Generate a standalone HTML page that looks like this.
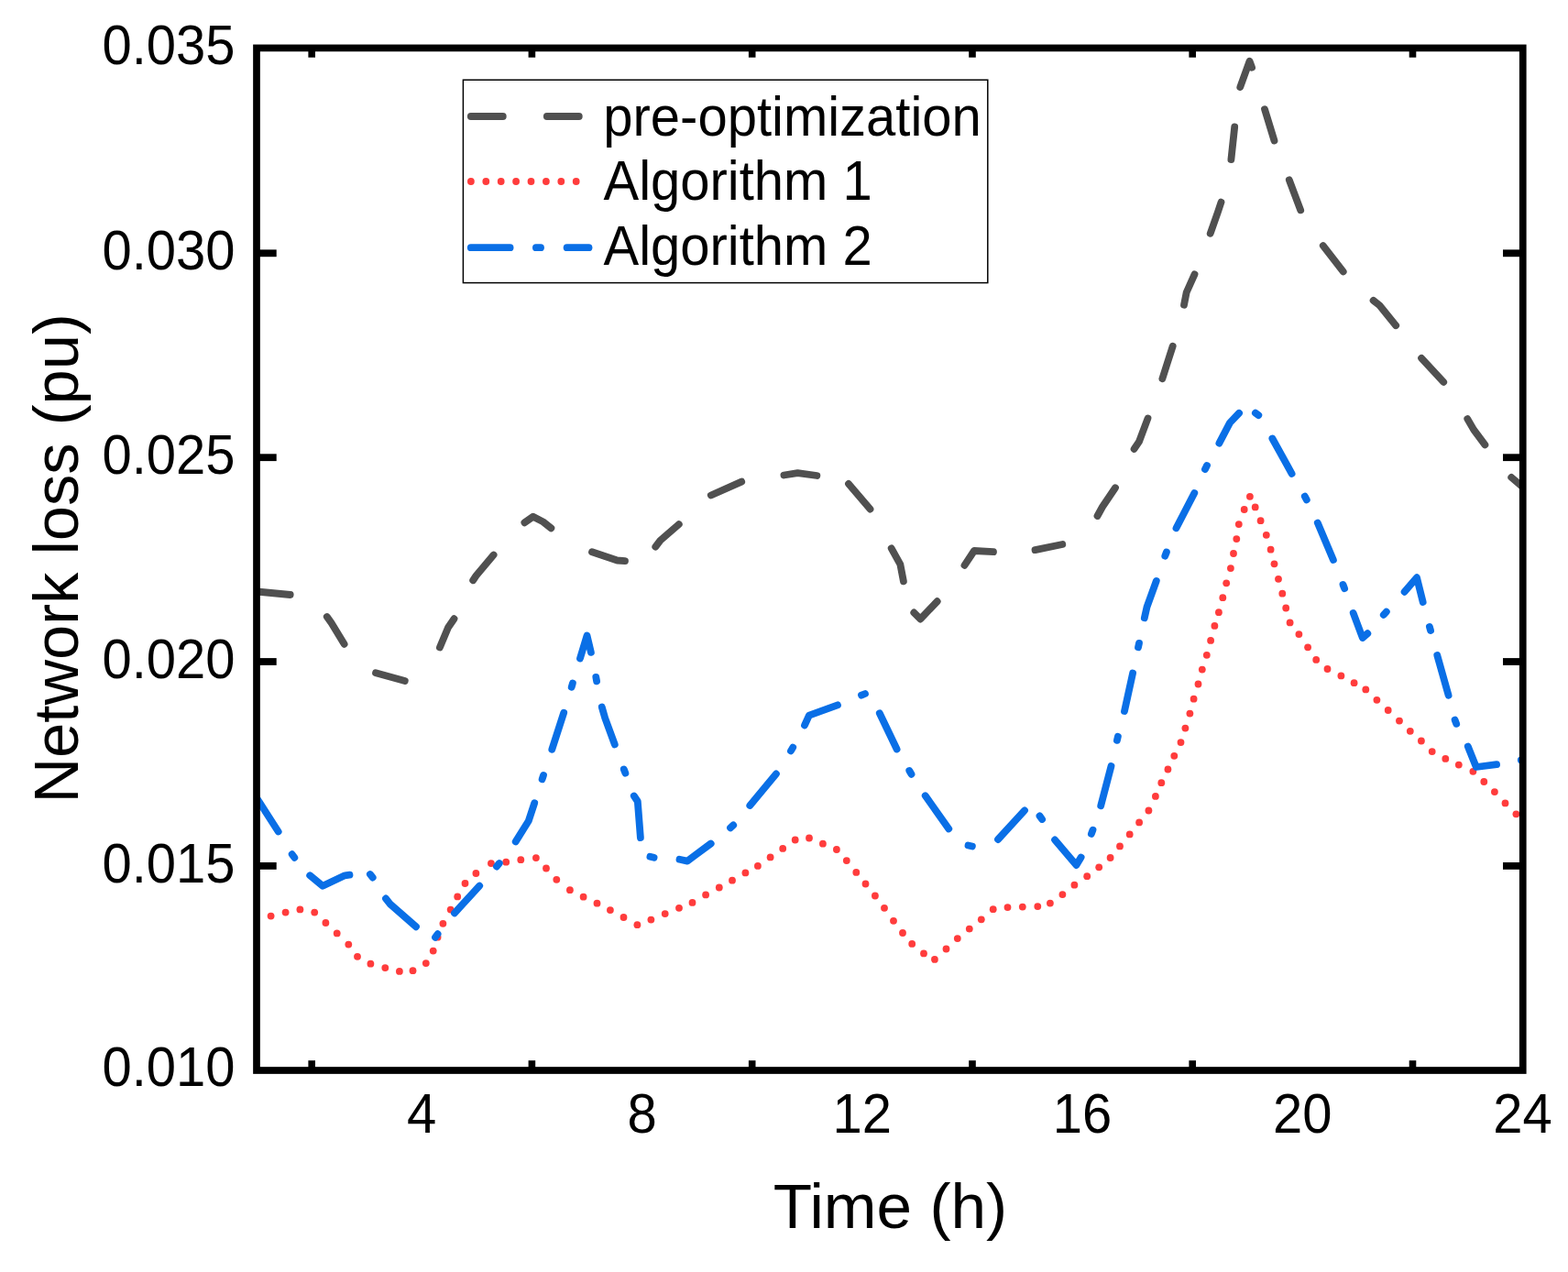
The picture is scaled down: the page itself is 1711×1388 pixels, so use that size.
<!DOCTYPE html>
<html><head><meta charset="utf-8"><title>Network loss chart</title>
<style>html,body{margin:0;padding:0;background:#fff;}svg{display:block;}</style>
</head><body>
<svg width="1711" height="1388" viewBox="0 0 1711 1388">
<rect width="1711" height="1388" fill="#fff"/>
<defs><clipPath id="pa"><rect x="280" y="52.4" width="1381.75" height="1115.6"/></clipPath></defs>
<g clip-path="url(#pa)" fill="none" stroke-linecap="round" stroke-linejoin="round">
<g fill="#ff3c3c" stroke="none">
<circle cx="295.6" cy="999.6" r="3.9"/>
<circle cx="311.6" cy="995.6" r="3.9"/>
<circle cx="327.4" cy="992.4" r="3.9"/>
<circle cx="343.2" cy="995.6" r="3.9"/>
<circle cx="355.4" cy="1007" r="3.9"/>
<circle cx="367.7" cy="1018.4" r="3.9"/>
<circle cx="380.3" cy="1030.6" r="3.9"/>
<circle cx="390" cy="1043.8" r="3.9"/>
<circle cx="404.4" cy="1051.7" r="3.9"/>
<circle cx="420.3" cy="1056.1" r="3.9"/>
<circle cx="435.9" cy="1059.9" r="3.9"/>
<circle cx="450.5" cy="1059.2" r="3.9"/>
<circle cx="464.8" cy="1051.1" r="3.9"/>
<circle cx="472.7" cy="1037.6" r="3.9"/>
<circle cx="477.6" cy="1022.7" r="3.9"/>
<circle cx="483.4" cy="1007.8" r="3.9"/>
<circle cx="491.7" cy="992.6" r="3.9"/>
<circle cx="499.2" cy="978.4" r="3.9"/>
<circle cx="507.5" cy="964" r="3.9"/>
<circle cx="519.4" cy="953" r="3.9"/>
<circle cx="535.9" cy="942.1" r="3.9"/>
<circle cx="552.2" cy="940.7" r="3.9"/>
<circle cx="568.3" cy="938.2" r="3.9"/>
<circle cx="584.9" cy="936.1" r="3.9"/>
<circle cx="596" cy="947.5" r="3.9"/>
<circle cx="607.3" cy="959.8" r="3.9"/>
<circle cx="621.9" cy="971.2" r="3.9"/>
<circle cx="636.6" cy="978.7" r="3.9"/>
<circle cx="651.5" cy="985.7" r="3.9"/>
<circle cx="665.9" cy="993.1" r="3.9"/>
<circle cx="680.5" cy="1001" r="3.9"/>
<circle cx="695.4" cy="1009.2" r="3.9"/>
<circle cx="710.4" cy="1003.6" r="3.9"/>
<circle cx="725.7" cy="997.1" r="3.9"/>
<circle cx="741" cy="990.8" r="3.9"/>
<circle cx="755.5" cy="984.9" r="3.9"/>
<circle cx="770.1" cy="976.4" r="3.9"/>
<circle cx="784.8" cy="968.5" r="3.9"/>
<circle cx="799" cy="960.7" r="3.9"/>
<circle cx="813.4" cy="952.4" r="3.9"/>
<circle cx="826.9" cy="944.9" r="3.9"/>
<circle cx="840.6" cy="935.4" r="3.9"/>
<circle cx="854.2" cy="925.9" r="3.9"/>
<circle cx="867.7" cy="916.5" r="3.9"/>
<circle cx="883" cy="914.5" r="3.9"/>
<circle cx="897.9" cy="920.7" r="3.9"/>
<circle cx="912.9" cy="927" r="3.9"/>
<circle cx="923.8" cy="939.1" r="3.9"/>
<circle cx="934.3" cy="951.9" r="3.9"/>
<circle cx="944.5" cy="964.5" r="3.9"/>
<circle cx="954.9" cy="977.5" r="3.9"/>
<circle cx="965" cy="990.8" r="3.9"/>
<circle cx="975" cy="1004.8" r="3.9"/>
<circle cx="985" cy="1018" r="3.9"/>
<circle cx="995.2" cy="1029.9" r="3.9"/>
<circle cx="1008" cy="1040.4" r="3.9"/>
<circle cx="1019.9" cy="1046.9" r="3.9"/>
<circle cx="1032.5" cy="1035.5" r="3.9"/>
<circle cx="1044.8" cy="1024.1" r="3.9"/>
<circle cx="1057.8" cy="1013.6" r="3.9"/>
<circle cx="1070.8" cy="1003.3" r="3.9"/>
<circle cx="1083.7" cy="992.2" r="3.9"/>
<circle cx="1099.5" cy="990.1" r="3.9"/>
<circle cx="1115.8" cy="989.6" r="3.9"/>
<circle cx="1132.3" cy="989.1" r="3.9"/>
<circle cx="1145.9" cy="985.6" r="3.9"/>
<circle cx="1159.4" cy="976.1" r="3.9"/>
<circle cx="1172.4" cy="965.7" r="3.9"/>
<circle cx="1186.2" cy="956.2" r="3.9"/>
<circle cx="1199.2" cy="946.3" r="3.9"/>
<circle cx="1211.6" cy="936" r="3.9"/>
<circle cx="1222" cy="923.4" r="3.9"/>
<circle cx="1232.7" cy="910.4" r="3.9"/>
<circle cx="1243.1" cy="897.4" r="3.9"/>
<circle cx="1253.4" cy="884.5" r="3.9"/>
<circle cx="1260.9" cy="868.9" r="3.9"/>
<circle cx="1267.3" cy="854.2" r="3.9"/>
<circle cx="1274.4" cy="839.5" r="3.9"/>
<circle cx="1281.3" cy="824.8" r="3.9"/>
<circle cx="1288.5" cy="810.1" r="3.9"/>
<circle cx="1293.4" cy="794.6" r="3.9"/>
<circle cx="1298.4" cy="778.6" r="3.9"/>
<circle cx="1302.6" cy="762.7" r="3.9"/>
<circle cx="1307.5" cy="746.5" r="3.9"/>
<circle cx="1311.8" cy="730.6" r="3.9"/>
<circle cx="1316.8" cy="714.8" r="3.9"/>
<circle cx="1321.1" cy="698.9" r="3.9"/>
<circle cx="1325.4" cy="682.9" r="3.9"/>
<circle cx="1329.9" cy="668.2" r="3.9"/>
<circle cx="1334.3" cy="652.2" r="3.9"/>
<circle cx="1338.2" cy="636.3" r="3.9"/>
<circle cx="1342.9" cy="620.1" r="3.9"/>
<circle cx="1346" cy="604" r="3.9"/>
<circle cx="1349.3" cy="588.1" r="3.9"/>
<circle cx="1351.8" cy="572.1" r="3.9"/>
<circle cx="1357.7" cy="556" r="3.9"/>
<circle cx="1363.9" cy="541.8" r="3.9"/>
<circle cx="1369.7" cy="553.4" r="3.9"/>
<circle cx="1375.6" cy="568.2" r="3.9"/>
<circle cx="1381.8" cy="583.8" r="3.9"/>
<circle cx="1386.6" cy="599.7" r="3.9"/>
<circle cx="1390.5" cy="615.3" r="3.9"/>
<circle cx="1395" cy="631.8" r="3.9"/>
<circle cx="1399.3" cy="647.7" r="3.9"/>
<circle cx="1403.2" cy="663.5" r="3.9"/>
<circle cx="1407.6" cy="679.4" r="3.9"/>
<circle cx="1417.4" cy="692.1" r="3.9"/>
<circle cx="1427.1" cy="706.3" r="3.9"/>
<circle cx="1436.2" cy="719.9" r="3.9"/>
<circle cx="1448.5" cy="730" r="3.9"/>
<circle cx="1463.4" cy="737.4" r="3.9"/>
<circle cx="1477.6" cy="745.2" r="3.9"/>
<circle cx="1490.3" cy="752.4" r="3.9"/>
<circle cx="1502.4" cy="763.8" r="3.9"/>
<circle cx="1514.7" cy="775" r="3.9"/>
<circle cx="1527" cy="786.6" r="3.9"/>
<circle cx="1538.8" cy="797.8" r="3.9"/>
<circle cx="1550.9" cy="808.5" r="3.9"/>
<circle cx="1562.7" cy="820.1" r="3.9"/>
<circle cx="1577.3" cy="827.9" r="3.9"/>
<circle cx="1591.8" cy="834.6" r="3.9"/>
<circle cx="1607.4" cy="841.8" r="3.9"/>
<circle cx="1619.3" cy="853" r="3.9"/>
<circle cx="1630.9" cy="864.1" r="3.9"/>
<circle cx="1642.5" cy="876.4" r="3.9"/>
<circle cx="1654.4" cy="888.3" r="3.9"/>
</g>
<g stroke="#0a6fe6" stroke-width="7.8">
<polyline points="280,870.5 303.7,907.5"/>
<line x1="318.7" y1="932.2" x2="321.3" y2="935.8"/>
<polyline points="338.2,955.3 352.1,966.8 376.3,955.3 381.5,954.7"/>
<line x1="403.9" y1="954.1" x2="406.7" y2="957.5"/>
<polyline points="421,980.5 426,986.8 454,1011.3"/>
<line x1="475.0" y1="1022.8" x2="477.6" y2="1019.2"/>
<polyline points="496,996.4 523.2,966.6"/>
<line x1="542.0" y1="945.5" x2="544.8" y2="942.1"/>
<polyline points="562.7,918.4 576.8,895.7 583.2,876.2"/>
<line x1="591.6" y1="850.2" x2="593.0" y2="846.0"/>
<polyline points="602.3,817.8 615.2,777.8"/>
<line x1="623.7" y1="749.7" x2="624.9" y2="745.5"/>
<polyline points="633,718.4 640.5,693.5 644.9,711.9"/>
<line x1="650.3" y1="738.9" x2="651.1" y2="743.3"/>
<polyline points="656.8,771.6 660.2,783.5 670.8,812.4"/>
<line x1="680.8" y1="839.5" x2="682.4" y2="843.7"/>
<polyline points="691.8,868.5 695.8,874.5 698.9,914.1"/>
<line x1="709.4" y1="934.8" x2="713.6" y2="935.8"/>
<polyline points="741.5,937.8 750,939.6 775.7,920.5"/>
<line x1="797.0" y1="903.3" x2="800.2" y2="900.3"/>
<polyline points="818.3,878.9 846.9,844.5"/>
<line x1="863.0" y1="819.4" x2="865.2" y2="815.6"/>
<polyline points="878,791.4 882.9,780.7 914,769.3"/>
<line x1="940.0" y1="758.6" x2="944.0" y2="757.0"/>
<polyline points="959.8,778.3 978.6,817.5"/>
<line x1="992.3" y1="841.0" x2="994.5" y2="844.8"/>
<polyline points="1009.7,868.3 1035.3,904.4"/>
<line x1="1056.5" y1="922.5" x2="1060.9" y2="923.5"/>
<polyline points="1089,916 1118,884.4"/>
<line x1="1134.5" y1="890.4" x2="1137.1" y2="894.0"/>
<polyline points="1151.1,916.4 1174.5,944 1179.6,935.5"/>
<line x1="1190.9" y1="909.9" x2="1192.5" y2="905.7"/>
<polyline points="1201.2,879.3 1212.5,836.1"/>
<line x1="1218.9" y1="807.9" x2="1219.9" y2="803.7"/>
<polyline points="1227,776 1236.1,734.5"/>
<line x1="1242.0" y1="706.3" x2="1243.0" y2="701.9"/>
<polyline points="1248.8,674.3 1251.5,662.4 1261.8,633.9"/>
<line x1="1271.3" y1="606.7" x2="1272.9" y2="602.5"/>
<polyline points="1283.5,576.3 1303.3,538"/>
<line x1="1315.0" y1="512.0" x2="1317.0" y2="508.0"/>
<polyline points="1330.4,483.6 1342,461.4 1352.1,450.8"/>
<line x1="1369.9" y1="450.6" x2="1373.3" y2="453.2"/>
<polyline points="1388.4,478.5 1409.6,516.8"/>
<line x1="1423.8" y1="541.6" x2="1425.8" y2="545.4"/>
<polyline points="1437.8,570.6 1454.9,611"/>
<line x1="1465.5" y1="638.0" x2="1467.1" y2="642.2"/>
<polyline points="1476.7,669 1486.8,696 1492.3,691.2"/>
<line x1="1509.8" y1="670.9" x2="1512.8" y2="667.7"/>
<polyline points="1532.6,645.8 1546,630.2 1552.7,657"/>
<line x1="1559.9" y1="683.9" x2="1561.1" y2="688.1"/>
<polyline points="1568.3,715.1 1580.6,758.7"/>
<line x1="1587.6" y1="785.6" x2="1589.2" y2="789.8"/>
<polyline points="1601.8,814.5 1610.8,837 1633.1,834.2"/>
<line x1="1659.8" y1="829.4" x2="1664.2" y2="828.6"/>
</g>
<g stroke="#505050" stroke-width="7.8">
<polyline points="280,645.5 316.7,649"/>
<polyline points="356.8,673 361.6,679.8 375.6,702.8"/>
<polyline points="410,734.3 441.8,742.9"/>
<polyline points="479.9,706.5 489,684.8 495.5,675.2"/>
<polyline points="516.2,633.2 519.5,628.3 538.6,605.6"/>
<polyline points="572.4,570.3 581.7,563.8 592.6,569.4 601.4,576.4"/>
<polyline points="646,602.3 673.5,611.5 682,612.2"/>
<polyline points="715.3,596.6 720.6,589.6 740.8,572.1"/>
<polyline points="775.8,540.5 809.2,525.6"/>
<polyline points="855.4,518.5 870.4,516.1 891.4,519"/>
<polyline points="926,528 949.5,555.5"/>
<polyline points="972.7,598.4 982.4,615.9 985.9,634.3"/>
<polyline points="997.3,668.5 1004.3,675.5 1022.7,656.2"/>
<polyline points="1052.5,616.8 1063,601 1084,602.2"/>
<polyline points="1129.5,600.1 1159.3,594"/>
<polyline points="1197.5,563 1203,553 1217,532.3"/>
<polyline points="1237.6,489.9 1243,481.8 1252.5,456.5"/>
<polyline points="1268.4,413.2 1273.4,397.3 1279.7,377.7"/>
<polyline points="1292,332.7 1294.7,319 1303.5,299.4"/>
<polyline points="1320.7,254.8 1328.9,231.5 1332.5,220.6"/>
<polyline points="1343.4,174.1 1347.2,138.5"/>
<polyline points="1353.3,95 1363.5,66.7 1366.1,73.6"/>
<polyline points="1380,119.2 1390.5,153.5"/>
<polyline points="1406.8,196.4 1419.2,229.3"/>
<polyline points="1443.8,268.2 1465.7,296.4"/>
<polyline points="1498.6,327.9 1505.4,333.3 1523.2,355.2"/>
<polyline points="1551.1,390.8 1575.2,416.9"/>
<polyline points="1601.3,457.1 1608.1,468.9 1620.4,485.3"/>
<polyline points="1649.2,520.9 1661.7,531.5"/>
</g>
</g>
<g stroke="#000" stroke-width="7.7" fill="none">
<rect x="280" y="52.4" width="1381.75" height="1115.6"/>
</g>
<g fill="#000">
<rect x="283" y="272.4" width="18.7" height="7.8"/>
<rect x="1640" y="272.4" width="19" height="7.8"/>
<rect x="283" y="495.3" width="18.7" height="7.8"/>
<rect x="1640" y="495.3" width="19" height="7.8"/>
<rect x="283" y="718.1" width="18.7" height="7.8"/>
<rect x="1640" y="718.1" width="19" height="7.8"/>
<rect x="283" y="941.0" width="18.7" height="7.8"/>
<rect x="1640" y="941.0" width="19" height="7.8"/>
<rect x="336.4" y="1157.2" width="7.6" height="8"/>
<rect x="336.4" y="55" width="7.6" height="7.7"/>
<rect x="576.6" y="1157.2" width="7.6" height="8"/>
<rect x="576.6" y="55" width="7.6" height="7.7"/>
<rect x="816.9" y="1157.2" width="7.6" height="8"/>
<rect x="816.9" y="55" width="7.6" height="7.7"/>
<rect x="1057.2" y="1157.2" width="7.6" height="8"/>
<rect x="1057.2" y="55" width="7.6" height="7.7"/>
<rect x="1297.4" y="1157.2" width="7.6" height="8"/>
<rect x="1297.4" y="55" width="7.6" height="7.7"/>
<rect x="1537.7" y="1157.2" width="7.6" height="8"/>
<rect x="1537.7" y="55" width="7.6" height="7.7"/>
</g>
<g font-family="'Liberation Sans', Arial, sans-serif" font-size="58" fill="#000">
<text transform="translate(256.5,70.0) scale(1,1.045)" text-anchor="end">0.035</text>
<text transform="translate(256.5,293.9) scale(1,1.045)" text-anchor="end">0.030</text>
<text transform="translate(256.5,516.8) scale(1,1.045)" text-anchor="end">0.025</text>
<text transform="translate(256.5,739.6) scale(1,1.045)" text-anchor="end">0.020</text>
<text transform="translate(256.5,962.5) scale(1,1.045)" text-anchor="end">0.015</text>
<text transform="translate(256.5,1185.2) scale(1,1.045)" text-anchor="end">0.010</text>
<text transform="translate(460.2,1236.4) scale(1,1.045)" text-anchor="middle">4</text>
<text transform="translate(700.5,1236.4) scale(1,1.045)" text-anchor="middle">8</text>
<text transform="translate(940.8,1236.4) scale(1,1.045)" text-anchor="middle">12</text>
<text transform="translate(1181.0,1236.4) scale(1,1.045)" text-anchor="middle">16</text>
<text transform="translate(1421.3,1236.4) scale(1,1.045)" text-anchor="middle">20</text>
<text transform="translate(1661.6,1236.4) scale(1,1.045)" text-anchor="middle">24</text>
</g>
<g font-family="'Liberation Sans', Arial, sans-serif" fill="#000">
<text font-size="69.3" transform="translate(971.4,1340.2)" text-anchor="middle">Time (h)</text>
<text font-size="68.7" transform="translate(84.8,609.3) rotate(-90) scale(1,1.01)" text-anchor="middle">Network loss (pu)</text>
</g>
<rect x="505.4" y="87.2" width="572.4" height="221.4" fill="#fff" stroke="#000" stroke-width="1.5"/>
<g fill="none" stroke-linecap="round" stroke-width="7.8">
<line x1="513.8" y1="127" x2="548.8" y2="127" stroke="#505050"/>
<line x1="596.8" y1="127" x2="631.8" y2="127" stroke="#505050"/>
<line x1="513.8" y1="270.2" x2="556.6" y2="270.2" stroke="#0a6fe6"/>
<line x1="584.9" y1="270.2" x2="590" y2="270.2" stroke="#0a6fe6"/>
<line x1="618.6" y1="270.2" x2="642.5" y2="270.2" stroke="#0a6fe6"/>
</g>
<g fill="#ff3c3c">
<circle cx="513.9" cy="198" r="3.9"/>
<circle cx="530.3" cy="198" r="3.9"/>
<circle cx="546.7" cy="198" r="3.9"/>
<circle cx="563.1" cy="198" r="3.9"/>
<circle cx="579.5" cy="198" r="3.9"/>
<circle cx="595.9" cy="198" r="3.9"/>
<circle cx="612.3" cy="198" r="3.9"/>
<circle cx="628.7" cy="198" r="3.9"/>
</g>
<g font-family="'Liberation Sans', Arial, sans-serif" font-size="58" fill="#000">
<text transform="translate(658.3,147.8) scale(1,1.04)">pre-optimization</text>
<text transform="translate(658.5,218.4) scale(1,1.04)">Algorithm 1</text>
<text transform="translate(658.5,289.4) scale(1,1.04)">Algorithm 2</text>
</g>
</svg>
</body></html>
